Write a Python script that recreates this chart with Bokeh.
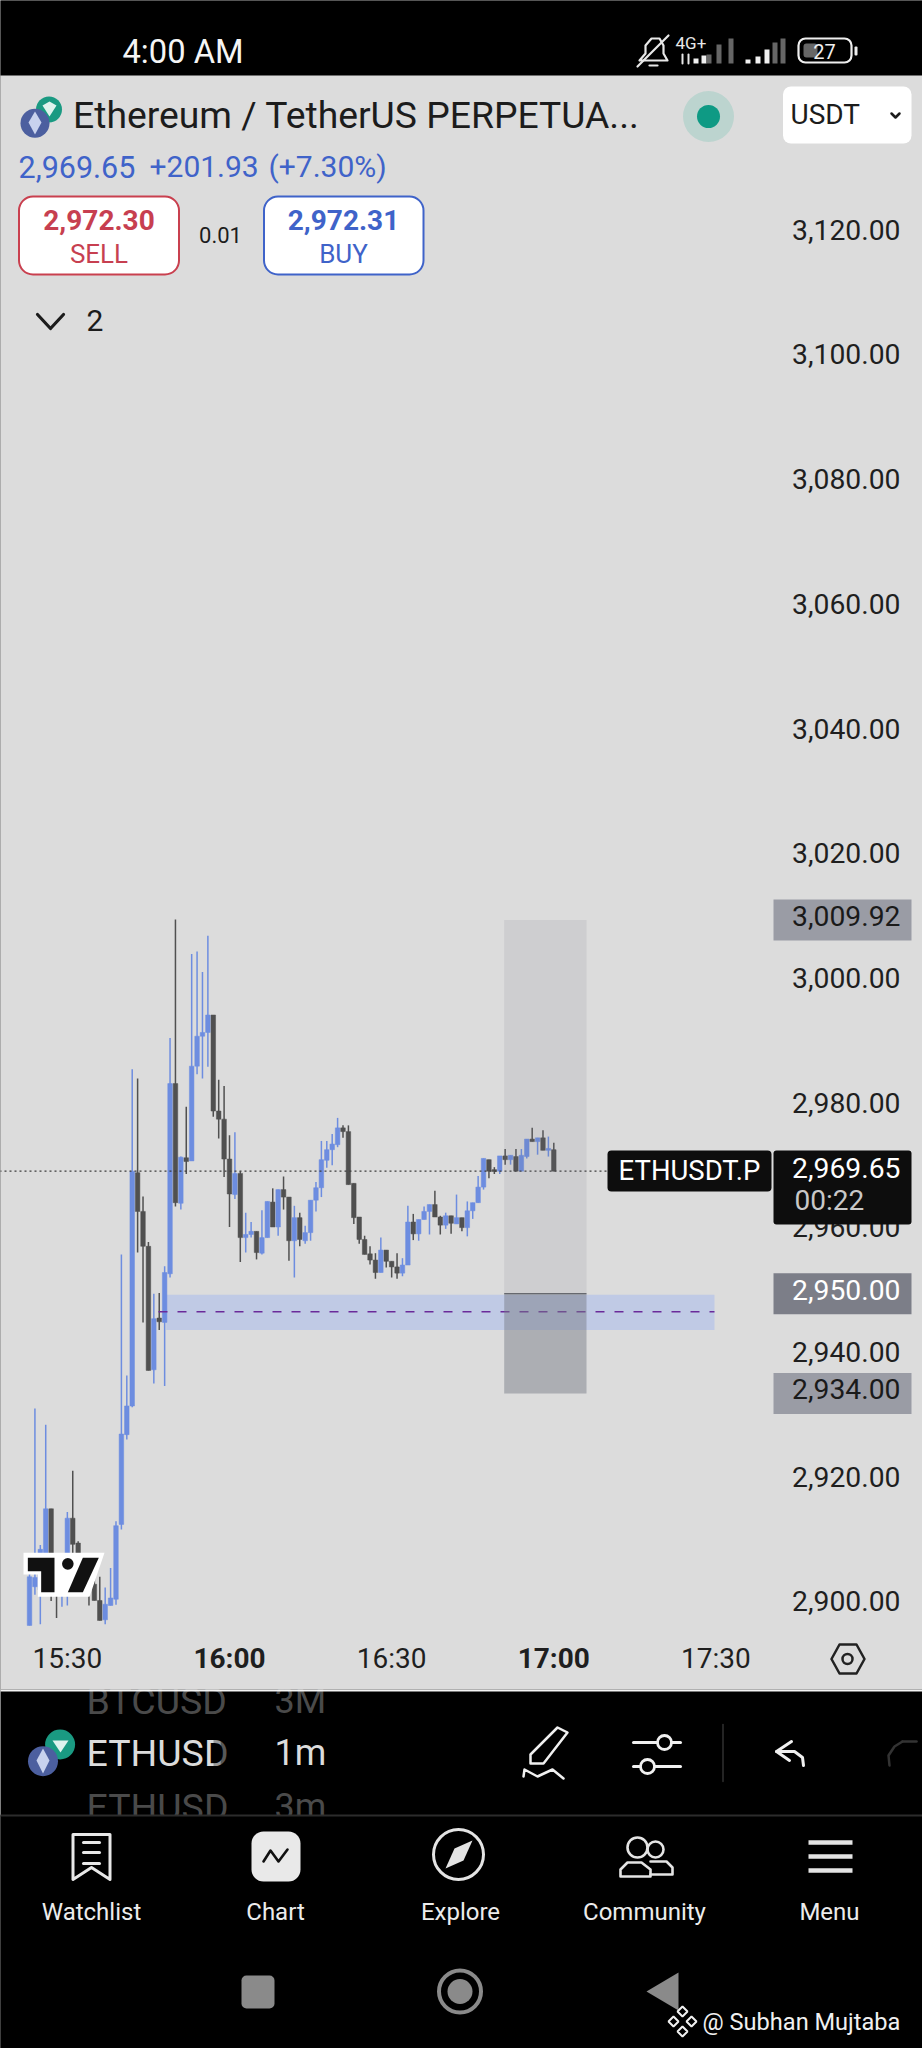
from bokeh.plotting import figure
from bokeh.models import Range1d, ColumnDataSource
from bokeh.core.properties import value
from bokeh.embed import file_html
from bokeh.resources import INLINE

# ---- chart data: minutes from 16:00, one candle per minute ----
minutes = list(range(-37, 61))
opens = [2896.8,2903,2902.5,2908,2915.5,2905,2903,2908,2914,2910,
 2905,2906,2903.4,2900.8,2897.7,2900,2901,2913,2927.4,2932,
 2969.4,2963.2,2957.6,2937.8,2946.1,2945.4,2953.2,2983.7,2964.5,2971.8,
 2971.3,2986.5,2991.3,2991.9,2994.7,2979.3,2978,2971.6,2965.9,2969.3,
 2959,2959.5,2960,2956.5,2959,2964.7,2960.7,2966.7,2965.5,2958.5,
 2962.2,2958.5,2959.8,2965,2967,2971.4,2973.1,2973.9,2976.6,2976,
 2967.7,2962.3,2958.7,2956.4,2955.4,2953.4,2957,2955.2,2954.3,2953.3,
 2954.6,2961.5,2959.6,2961.9,2963.2,2964.3,2962.3,2961,2962.5,2961.2,
 2962.2,2960.6,2963.3,2964.6,2967.1,2971.5,2969.9,2969.65,2972.1,2971.5,
 2972,2969.65,2972,2974.8,2974.4,2975,2973,2973.1]
highs = [2905.5,2931.6,2909.7,2929,2915.5,2906,2907,2915,2921.6,2910.3,
 2908,2907,2904.7,2904.6,2902.9,2906,2913.5,2956.3,2936.9,2986,
 2984.5,2965.6,2958.3,2950,2950.1,2954.4,2991,3010,2972,2980,
 3004.5,3004.9,3001.6,3007.4,2994.7,2984.3,2983.3,2975.4,2975.9,2969.65,
 2963,2961.5,2960,2963.4,2964.8,2966.9,2966.7,2968.8,2965.5,2964.1,
 2963,2960.9,2965,2967.9,2974.5,2974.5,2975.6,2978.2,2977,2977,
 2967.7,2962.3,2959.3,2957.6,2956.5,2959,2957,2955.2,2956.5,2955.7,
 2964.1,2962.8,2961.9,2964,2964.3,2966.5,2962.5,2963,2962.5,2965.9,
 2962.2,2964.8,2964.6,2968.9,2971.7,2971.5,2970.3,2972.1,2973.2,2972.2,
 2973.2,2973.2,2974.8,2976.6,2975,2976.2,2975.2,2974.2]
lows = [2896.8,2901.7,2897,2907,2900.7,2898,2899.8,2900,2906,2907,
 2904,2900,2900.8,2897.6,2897,2900,2900.1,2912.2,2926.6,2931.8,
 2956.6,2945.4,2937.7,2935.6,2944.2,2935.2,2952.6,2964,2963.5,2969.2,
 2971.3,2985.2,2984.5,2986.4,2978.4,2974.9,2968.7,2960.7,2965.2,2955.1,
 2956.6,2959,2955.5,2956.3,2959,2960.7,2959.3,2963.5,2955.3,2952.6,
 2957.6,2958,2958.5,2963.2,2965.5,2970.2,2970.6,2973.5,2975,2967.5,
 2961.2,2958,2956.3,2954.7,2952.4,2953.4,2954.2,2952.6,2952.4,2952.8,
 2954.6,2958.6,2958.5,2961.9,2959.5,2962.3,2959.5,2960.4,2959.6,2961.2,
 2960,2959.2,2962,2964.6,2966.7,2968.5,2969.2,2969.2,2970.7,2970.7,
 2969.65,2969.65,2971.7,2974.4,2972.3,2973,2972,2969.65]
closes = [2904.6,2904.5,2909,2915.5,2907,2902.5,2906.5,2914,2909.8,2908,
 2907,2904,2900.8,2897.6,2900.2,2901.2,2912.8,2927.5,2932,2969.65,
 2963.2,2957.6,2937.7,2946,2945.5,2953.4,2983.7,2964.6,2971.9,2971.2,
 2986.5,2991.3,2991.9,2994.7,2979.3,2978,2971.6,2966,2969.3,2959,
 2959.5,2960,2956.6,2959,2964.8,2960.7,2966.7,2965.5,2958.5,2962.2,
 2958.7,2959.8,2965,2967,2971.5,2973.1,2974,2976.6,2976,2967.5,
 2962.2,2958.7,2956.3,2955.4,2953.4,2957,2955.2,2954.3,2953.3,2954.6,
 2961.5,2959.6,2961.9,2963.2,2964.3,2962.3,2961,2962.5,2961.3,2962.2,
 2960.6,2963.3,2964.6,2967.1,2971.7,2969.65,2969.6,2972.1,2971.5,2972.2,
 2969.65,2972.2,2974.8,2974.4,2975,2973,2973.3,2969.65]

price_ticks = [3120, 3100, 3080, 3060, 3040, 3020, 3000, 2980, 2960, 2940, 2920, 2900]
time_ticks = [-30, 0, 30, 60, 90]
time_labels = ["15:30", "16:00", "16:30", "17:00", "17:30"]
time_styles = ["normal", "bold", "normal", "bold", "normal"]
last_price = 2969.65
target_price, entry_price, stop_price = 3009.92, 2950.00, 2934.00
band_top, band_mid, band_bottom = 2949.85, 2947.1, 2944.2

# ---- picture geometry ----
PX_MIN, Y_PX_LAST, PX_PRICE, X0 = 5.405, 1171.7, 6.235, 230.0
BG = "#dcdcdc"
BLUE = "#6d8de0"
DARK = "#505050"
FONT = value("Roboto")
W, H = 922, 2048
SH = 1  # the page draws one pixel in from the corner

def price_at(y):
    return last_price + (Y_PX_LAST - y) / PX_PRICE

p = figure(width=W, height=H, output_backend="svg", toolbar_location=None,
           x_range=Range1d((SH - X0) / PX_MIN, (W + SH - X0) / PX_MIN),
           y_range=Range1d(price_at(H + SH), price_at(SH)),
           x_axis_type=None, y_axis_type=None, min_border=0,
           background_fill_color="#000000", border_fill_color="#000000", outline_line_color=None)
p.grid.visible = False
p.extra_x_ranges["px"] = Range1d(SH, W + SH)
p.extra_y_ranges["px"] = Range1d(H + SH, SH)
PX = dict(x_range_name="px", y_range_name="px")
XPX = dict(x_range_name="px")


def T(x, y, s, size, color="#1a1a1a", align="left", style="normal", font=FONT):
    p.text(x=[x], y=[y], text=[s], text_font=font, text_font_size=value(f"{size}px"), text_color=color,
           text_align=align, text_baseline="middle", text_font_style=style, **PX)


def box(l, t, r, b, fill, line=None, lw=1, radius=0, alpha=1.0):
    p.quad(left=[l], right=[r], top=[t], bottom=[b], fill_color=fill, fill_alpha=alpha,
           line_color=line, line_width=lw, border_radius=radius, **PX)


def path(xs, ys, color="#ffffff", lw=2.5):
    p.line(xs, ys, line_color=color, line_width=lw, line_cap="round", line_join="round", **PX)


def poly(xs, ys, fill, line=None, lw=1):
    p.patch(xs, ys, fill_color=fill, line_color=line, line_width=lw, **PX)


def dot(x, y, r, fill, line=None, lw=1):
    p.scatter([x], [y], size=2 * r, marker="circle", fill_color=fill, line_color=line, line_width=lw, **PX)


# ---- clipped wheel texts, then the panels that clip them ----
T(87, 1701, "BTCUSD", 37.5, "#4a4a4a")
T(275, 1701, "3M", 36, "#4a4a4a")
T(87, 1807, "ETHUSD", 37.5, "#4a4a4a")
T(275, 1807, "3m", 36, "#4a4a4a")
box(0, 0, W + 2, 1690, BG)
box(0, 1690, W + 2, 1692, "#f4f4f4")
box(0, 1816, W + 2, H + 2, "#000000")
box(0, 1815, W + 2, 1817, "#2c2c2c")
box(0, 0, W + 2, 76, "#000000")

# ---- blue zone behind the candles ----
p.quad(left=[(166.7 - X0) / PX_MIN], right=[(715 - X0) / PX_MIN], top=[band_top], bottom=[band_bottom],
       fill_color="#82a3fd", fill_alpha=0.30, line_color=None)

# ---- candles ----
colors = [BLUE if c >= o else DARK for o, c in zip(opens, closes)]
src = ColumnDataSource(dict(m=minutes, o=opens, h=highs, l=lows, c=closes, color=colors))
p.segment(x0="m", y0="l", x1="m", y1="h", line_color="color", line_width=1.5, source=src)
p.vbar(x="m", top="o", bottom="c", width=0.84, fill_color="color", line_color="color", line_width=0.5, source=src)

# ---- last price dotted line and band centre ----
p.line([(0 - X0) / PX_MIN, (608 - X0) / PX_MIN], [last_price, last_price], line_color="#3c3c3c",
       line_width=1.2, line_dash="2 3")
p.line([(159 - X0) / PX_MIN, (715 - X0) / PX_MIN], [band_mid, band_mid], line_color="#6a2a9a",
       line_width=1.4, line_dash="9 10")

# ---- position tool ----
xl, xr = (504.7 - X0) / PX_MIN, (587 - X0) / PX_MIN
p.quad(left=[xl], right=[xr], top=[target_price], bottom=[entry_price], fill_color="#787b86", fill_alpha=0.14,
       line_color=None)
p.quad(left=[xl], right=[xr], top=[entry_price], bottom=[stop_price], fill_color="#787b86", fill_alpha=0.48,
       line_color=None)
p.line([xl, xr], [entry_price, entry_price], line_color="#66686e", line_width=1.3)

# ---- TradingView mark ----
def zx(v): return v / 3
def zy(v): return v / 3 + 1280
poly([zx(v) for v in (72, 315, 270, 115, 115, 72)], [zy(v) for v in (820, 820, 952, 952, 885, 885)], "#ffffff")
poly([zx(v) for v in (85, 165, 165, 125, 125, 85)], [zy(v) for v in (835, 835, 938, 938, 875, 875)], "#111111")
poly([zx(v) for v in (250, 298, 250, 205)], [zy(v) for v in (835, 835, 938, 938)], "#111111")
dot(zx(205), zy(853), 5.8, "#111111")

# ---- price scale ----
p.text(x=[901] * len(price_ticks), y=price_ticks, text=[f"{t:,.2f}" for t in price_ticks], text_font=FONT,
       text_font_size=value("28.3px"), text_color="#1f1f1f", text_align="right", text_baseline="middle",
       y_offset=-4, **XPX)

for price, fill, tc in [(target_price, "#9a9ca5", "#1a1a1a"), (entry_price, "#7c7e88", "#ffffff"),
                        (stop_price, "#9a9ca5", "#1a1a1a")]:
    p.rect(x=[843], y=[price], width=138, height=41, height_units="screen", fill_color=fill, line_color=None,
           **XPX)
    p.text(x=[901], y=[price], text=[f"{price:,.2f}"], text_font=FONT, text_font_size=value("28.3px"),
           text_color=tc, text_align="right", text_baseline="middle", y_offset=-4, **XPX)

box(608, 1151, 772, 1192, "#0d0d0d", radius=4)
T(690, 1171, "ETHUSDT.P", 27.5, "#ffffff", "center")
box(774, 1151, 912, 1225, "#0d0d0d", radius=3)
T(901, 1168, f"{last_price:,.2f}", 28.3, "#ffffff", "right")
T(795, 1201, "00:22", 28, "#c8c8c8")

# ---- time scale ----
for t, lab, st in zip(time_ticks, time_labels, time_styles):
    p.text(x=[t], y=[1659], text=[lab], text_font=FONT, text_font_size=value("28px"), text_color="#1f1f1f",
           text_align="center", text_baseline="middle", text_font_style=st, y_range_name="px")
path([832, 840, 857, 865, 857, 840, 832], [1659.5, 1645, 1645, 1659.5, 1674, 1674, 1659.5], "#222222", 2.5)
dot(848, 1659.5, 5, BG, "#222222", 2.5)

# ---- status bar ----
T(123, 52, "4:00 AM", 32.7, "#f5f5f5")
path([640, 646, 646, 652, 660, 664, 664, 668, 640], [61, 54, 46, 39, 39, 46, 54, 61, 61], "#e8e8e8", 2.2)
path([650, 658], [66, 66], "#e8e8e8", 2.2)
path([638, 669], [67, 36], "#e8e8e8", 2.2)
T(676, 43, "4G+", 17, "#e8e8e8")
path([683, 683], [55, 64], "#e8e8e8", 2)
path([689, 689], [55, 64], "#e8e8e8", 2)
p.quad(left=[694, 702, 707, 717, 729], right=[699, 707, 712, 722, 734], top=[59, 56, 55, 45, 39],
       bottom=[64] * 5, fill_color=["#f0f0f0", "#f0f0f0", "#666666", "#666666", "#666666"], line_color=None, **PX)
p.quad(left=[746, 756, 765, 773, 781], right=[751, 761, 770, 778, 786], top=[60, 57, 50, 43, 39],
       bottom=[64] * 5, fill_color=["#f0f0f0", "#f0f0f0", "#f0f0f0", "#666666", "#666666"], line_color=None, **PX)
box(799, 39, 852, 63, "#000000", "#efefef", 2.2, radius=7)
box(804, 44, 818, 58, "#666666", radius=3)
T(825, 52, "27", 20, "#f0f0f0", "center")
box(855, 47, 858, 56, "#efefef", radius=1)

# ---- header ----
dot(49.5, 110, 13, "#1a9a82")
poly([43, 50, 57, 50], [106, 102, 106, 117], "#dff3ee")
dot(35.5, 123.7, 14.5, "#4c5f9f")
poly([35.5, 42, 35.5, 29], [112, 123, 135, 123], "#c8d2ee")
T(73.5, 115, "Ethereum / TetherUS PERPETUA...", 37.3, "#1c1c1c")
dot(709, 117, 25.5, "#bcd4cf")
dot(709, 117, 11.5, "#0e9a84")
box(783.5, 87, 912, 144, "#ffffff", radius=8)
T(791, 115, "USDT", 28, "#1c1c1c")
path([892, 896, 900], [114, 118, 114], "#1c1c1c", 2.5)

T(19, 167, "2,969.65", 30.5, "#3f63c9")
T(150, 167, "+201.93", 30, "#3f63c9")
T(269, 167, "(+7.30%)", 30, "#3f63c9")

box(19.5, 197, 179.5, 275, "#ffffff", "#c9404f", 2, radius=14)
T(99.5, 220, "2,972.30", 28, "#c73f50", "center", "bold")
T(99.5, 254, "SELL", 26, "#c73f50", "center")
T(221, 235, "0.01", 22, "#1c1c1c", "center")
box(264.5, 197, 424, 275, "#ffffff", "#3f63c9", 2, radius=14)
T(344, 220, "2,972.31", 28, "#3f63c9", "center", "bold")
T(344, 254, "BUY", 26, "#3f63c9", "center")
path([38, 51, 64], [315, 329, 315], "#1c1c1c", 3.2)
T(87, 321, "2", 30, "#1c1c1c")

# ---- chart toolbar row ----
dot(60.6, 1745, 15, "#1a9a82")
poly([53, 61, 69], [1741, 1753, 1741], "#dff3ee")
dot(43.5, 1761.7, 15, "#4c5f9f")
poly([43.5, 50, 43.5, 37], [1749, 1761, 1774, 1761], "#c8d2ee")
T(87, 1753, "ETHUSD", 37.5, "#dcdcdc")
T(275, 1753, "1m", 36, "#dcdcdc")
box(214, 1722, 221, 1785, "#000000", alpha=0.3)
box(221, 1722, 234, 1785, "#000000", alpha=0.6)
path([531, 558, 568, 544, 531, 531], [1755, 1728, 1733, 1764, 1764, 1755], "#f0f0f0", 2.5)
path([524, 525, 538, 553, 564], [1777, 1770, 1777, 1770, 1779], "#f0f0f0", 2.5)
path([634, 681], [1743, 1743], "#f0f0f0", 3)
dot(665, 1743, 7, "#000000", "#f0f0f0", 2.8)
path([634, 681], [1767, 1767], "#f0f0f0", 3)
dot(648, 1767, 7, "#000000", "#f0f0f0", 2.8)
path([723.5, 723.5], [1725, 1782], "#303030", 1.5)
path([792, 777, 790], [1742, 1752, 1761], "#f0f0f0", 3)
path([777, 795, 803, 804], [1752, 1752, 1758, 1766], "#f0f0f0", 3)
path([903, 917], [1742, 1742], "#333333", 2.5)
path([890, 889, 895, 903], [1766, 1756, 1747, 1742], "#333333", 2.5)

# ---- navigation ----
for x, lab in zip([92, 276, 461, 645, 830], ["Watchlist", "Chart", "Explore", "Community", "Menu"]):
    T(x, 1912, lab, 24, "#ececec", "center")
path([73.5, 110.5, 110.5, 92, 73.5, 73.5], [1835, 1835, 1880, 1868, 1880, 1835], "#e8e8e8", 3)
for y in (1843, 1853, 1864):
    path([84, 100], [y, y], "#e8e8e8", 3)
box(252, 1832, 301, 1882, "#e9e9e9", radius=12)
path([264, 271, 279, 288], [1862, 1851, 1862, 1850], "#111111", 2.6)
dot(459, 1855, 25, None, "#e4e4e4", 3)
poly([473, 464, 446, 455], [1841, 1861, 1869, 1849], "#e4e4e4")
dot(638, 1848, 10, None, "#e4e4e4", 2.6)
dot(656, 1850, 8, None, "#e4e4e4", 2.6)
path([621, 621, 628, 642, 651, 651, 621], [1877, 1870, 1863, 1863, 1870, 1877, 1877], "#e4e4e4", 2.6)
path([651, 673, 673, 667, 651], [1875, 1875, 1868, 1862, 1862], "#e4e4e4", 2.6)
for y in (1843, 1857, 1871):
    box(809, y - 2.2, 853, y + 2.2, "#e4e4e4")

# ---- system bar and watermark ----
box(242, 1976, 275, 2009, "#8a8a8a", radius=5)
dot(460.5, 1992, 21, None, "#8a8a8a", 4)
dot(460.5, 1992, 12.5, "#8a8a8a")
poly([647, 679, 679], [1992, 1973, 2011], "#8a8a8a")
for cx, cy in [(683, 2012), (674, 2022), (692, 2022), (683, 2032)]:
    poly([cx - 5, cx, cx + 5, cx], [cy, cy - 5, cy, cy + 5], None, "#f0f0f0", 2)
T(703, 2022, "@ Subhan Mujtaba", 23.6, "#f0f0f0")

open("out.html", "w").write(file_html(p, INLINE))
